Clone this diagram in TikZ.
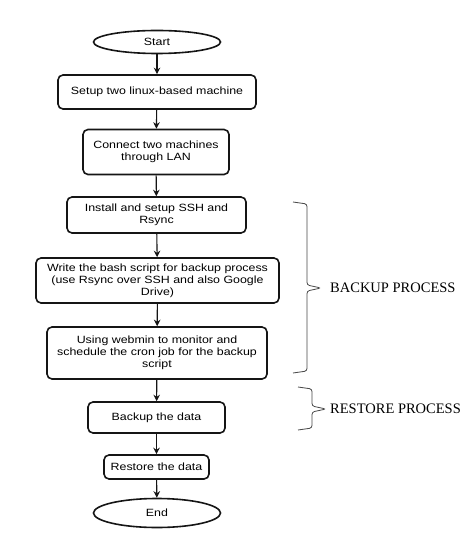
\documentclass[tikz,border=0pt]{standalone}
\usepackage{fontspec}
\setmainfont{Liberation Sans}[FakeStretch=1.18]
\newfontfamily\phasefont{Liberation Serif}
\usepackage{xcolor}
\usetikzlibrary{arrows.meta,positioning,shapes.geometric}
\definecolor{InkLine}{HTML}{151515}
\definecolor{BraceGray}{HTML}{474747}

\tikzset{
    stepbox/.style={draw=InkLine, line width=1.6pt, rounded corners=5pt, align=center,
        font=\fontsize{10.5}{12}\selectfont, inner sep=1pt},
    termnode/.style={draw=InkLine, ellipse, line width=1.6pt, inner sep=0pt,
        font=\fontsize{10.5}{12}\selectfont},
    flowarrow/.style={draw=InkLine, line width=1.1pt, -{Stealth[length=6.5pt,width=6.5pt]}},
    bracepath/.style={draw=BraceGray, line width=0.8pt, rounded corners=2.5pt},
    phaselabel/.style={font=\phasefont\fontsize{14.5}{16}\selectfont, anchor=west, inner sep=0pt}
}

\begin{document}
\begin{tikzpicture}[x=1pt, y=-1pt]
        \useasboundingbox (0,0) rectangle (474,534);
        \fill[white] (0,0) rectangle (474,534);

        % flow column
        \node[termnode, minimum width=127pt, minimum height=23pt] (start) at (157,42) {Start};
        \node[stepbox, minimum width=198pt, minimum height=34pt] (setup) at (157,92) {Setup two linux-based machine};
        \node[stepbox, minimum width=146pt, minimum height=45pt] (connect) at (156,152) {Connect two machines\\through LAN};
        \node[stepbox, minimum width=179pt, minimum height=36pt] (install) at (156.5,215) {Install and setup SSH and\\Rsync};
        \node[stepbox, minimum width=243pt, minimum height=45pt] (script) at (157.5,280.5) {Write the bash script for backup process\\(use Rsync over SSH and also Google\\Drive)};
        \node[stepbox, minimum width=220pt, minimum height=52pt] (webmin) at (157,353) {Using webmin to monitor and\\schedule the cron job for the backup\\script};
        \node[stepbox, minimum width=137pt, minimum height=31pt] (backup) at (156.5,417.5) {Backup the data};
        \node[stepbox, minimum width=105pt, minimum height=24pt] (restore) at (156.5,467) {Restore the data};
        \node[termnode, minimum width=127pt, minimum height=29pt] (finish) at (157,513) {End};

        \foreach \a/\b in {start/setup, setup/connect, connect/install, install/script,
                script/webmin, webmin/backup, backup/restore, restore/finish} {
            \draw[flowarrow] (\a) -- (\b);
        }

        % phase braces
        \draw[bracepath] (293,202) -- (307,204) -- (307,285) -- (321,288) -- (307,291) -- (307,371) -- (293,373);
        \node[phaselabel] (backuplbl) at (330,288) {BACKUP PROCESS};

        \draw[bracepath] (298,387) -- (312,389) -- (312,406) -- (326,409) -- (312,412) -- (312,428) -- (298,430);
        \node[phaselabel] (restorelbl) at (330,409) {RESTORE PROCESS};
    \end{tikzpicture}
\end{document}
